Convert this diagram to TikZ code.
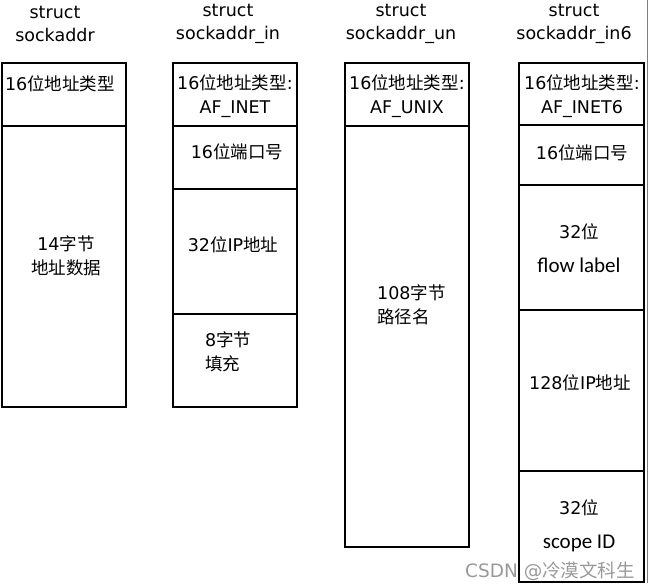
\documentclass[tikz,border=0pt]{standalone}
\usepackage{fontspec}
\setmainfont{DejaVu Sans}
\newfontfamily\cjk{Noto Sans CJK SC}
\newfontfamily\calfont{Carlito}
\newcommand{\zh}[1]{{\cjk #1}}

\begin{document}
\begin{tikzpicture}[x=1pt,y=-1pt,
  font=\fontsize{17.5}{23.5}\selectfont,
  box/.style={line width=2.6pt},
  sep/.style={line width=2.2pt},
  lbl/.style={inner sep=0pt,align=center},
  lft/.style={inner sep=0pt,align=left,anchor=west}]
\useasboundingbox (0,0) rectangle (650,588);

% titles
\node[lbl] (t1) at (55,24)  {struct\\sockaddr};
\node[lbl] (t2) at (228,24) {struct\\sockaddr\_in};
\node[lbl] (t3) at (401,24) {struct\\sockaddr\_un};
\node[lbl] (t4) at (574,24) {struct\\sockaddr\_in6};

% sockaddr
\draw[box] (2,63) rectangle (126,407);
\draw[sep] (2,126) -- (126,126);
\node[lbl] (h1) at (60,84)  {16\zh{位地址类型}};
\node[lbl] (d1) at (66,256) {14\zh{字节}\\\zh{地址数据}};

% sockaddr_in
\draw[box] (173,63) rectangle (297,407);
\draw[sep] (173,126) -- (297,126)
           (173,189) -- (297,189)
           (173,314) -- (297,314);
\node[lbl] (h2) at (235,96)  {16\zh{位地址类型}:\\AF\_INET};
\node[lbl] (p2) at (237,152) {16\zh{位端口号}};
\node[lbl] (a2) at (233,245) {32\zh{位}IP\zh{地址}};
\node[lft] (f2) at (205,352) {8\zh{字节}\\\zh{填充}};

% sockaddr_un
\draw[box] (345,63) rectangle (469,547);
\draw[sep] (345,126) -- (469,126);
\node[lbl] (h3) at (407,96)  {16\zh{位地址类型}:\\AF\_UNIX};
\node[lft] (n3) at (377,305) {108\zh{字节}\\\zh{路径名}};

% sockaddr_in6
\draw[box] (519,63) rectangle (644,582);
\draw[sep] (519,125) -- (644,125);
\draw[box] (519,185) -- (644,185)
           (519,310) -- (644,310)
           (519,471) -- (644,471);
\node[lbl] (h4) at (582,96)  {16\zh{位地址类型}:\\AF\_INET6};
\node[lbl] (p4) at (582,153) {16\zh{位端口号}};
\node[lbl] (l4) at (579,248) {32\zh{位}\\[11pt]{\calfont\fontsize{21}{24}\selectfont flow label}};
\node[lbl] (i4) at (580,383) {128\zh{位}IP\zh{地址}};
\node[lbl] (s4) at (579,526) {32\zh{位}\\[11pt]{\calfont\fontsize{21}{24}\selectfont scope ID}};

% edge line, watermark
\draw[gray,line width=0.8pt] (647,0) -- (647,583);
\node[lbl,text=black!40,font=\fontsize{18.5}{20}\selectfont] (wm) at (550,571) {CSDN @\zh{冷漠文科生}};
\end{tikzpicture}
\end{document}
